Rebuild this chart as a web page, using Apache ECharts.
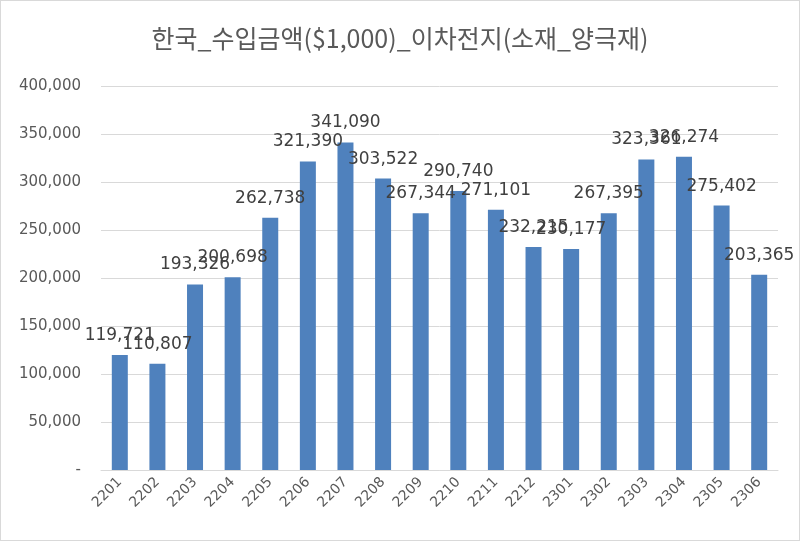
<!DOCTYPE html>
<html>
<head>
<meta charset="utf-8">
<script src="https://cdn.jsdelivr.net/npm/echarts@6/dist/echarts.min.js"></script>
<style>
html, body { margin: 0; padding: 0; background: #fff; }
#chart { width: 798px; height: 539px; border: 1px solid #d9d9d9; }
</style>
</head>
<body>
<div id="chart"></div>
<script>
var months = ['2201', '2202', '2203', '2204', '2205', '2206', '2207', '2208', '2209',
    '2210', '2211', '2212', '2301', '2302', '2303', '2304', '2305', '2306'];
var importAmount = [119721, 110807, 193326, 200698, 262738, 321390, 341090, 303522, 267344,
    290740, 271101, 232215, 230177, 267395, 323361, 326274, 275402, 203365];
var yTicks = [0, 50000, 100000, 150000, 200000, 250000, 300000, 350000, 400000];

function fmt(v) {
    return v.toString().replace(/\B(?=(\d{3})+(?!\d))/g, ',');
}

var numFont = 'DejaVu Sans';
var chart = echarts.init(document.getElementById('chart'));
var option = {
    animation: false,
    title: {
        text: '한국_수입금액($1,000)_이차전지(소재_양극재)',
        left: 'center',
        top: 20,
        textStyle: {
            fontFamily: 'Noto Sans CJK KR',
            fontSize: 25,
            fontWeight: 'normal',
            color: '#595959'
        }
    },
    grid: {
        left: 100,
        right: 21,
        top: 85,
        bottom: 70
    },
    xAxis: {
        type: 'category',
        data: months,
        axisLine: { lineStyle: { color: '#d9d9d9' } },
        axisTick: { show: false },
        axisLabel: {
            rotate: 45,
            margin: 10,
            fontFamily: numFont,
            fontSize: 14,
            color: '#595959'
        }
    },
    yAxis: {
        type: 'value',
        min: yTicks[0],
        max: yTicks[yTicks.length - 1],
        interval: 50000,
        axisLine: { show: false },
        axisTick: { show: false },
        splitLine: { lineStyle: { color: '#d9d9d9' } },
        axisLabel: {
            margin: 20,
            fontFamily: numFont,
            fontSize: 15,
            color: '#595959',
            formatter: function (v) {
                return v === 0 ? '-' : fmt(v);
            }
        }
    },
    series: [{
        type: 'bar',
        data: importAmount,
        barWidth: 16,
        itemStyle: { color: '#4F81BD' },
        label: {
            show: true,
            position: 'top',
            distance: 11,
            fontFamily: numFont,
            fontSize: 17,
            color: '#404040',
            formatter: function (p) {
                return fmt(p.value);
            }
        }
    }]
};
chart.setOption(option);
</script>
</body>
</html>
